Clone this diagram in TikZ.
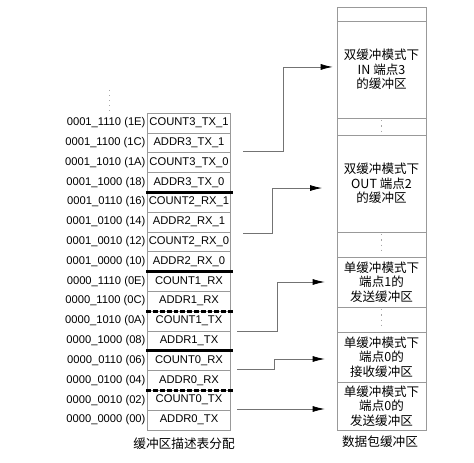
\documentclass[tikz,border=0pt]{standalone}
\usepackage{fontspec}
\setmainfont{Liberation Sans}
\newfontfamily\cjk{Noto Sans CJK SC}
\usetikzlibrary{positioning,arrows.meta}

\begin{document}
\begin{tikzpicture}[x=0.75pt,y=-0.75pt,
    >={Latex[length=9pt,width=4.5pt,color=black]},
    desc/.style={draw=gray!80, minimum width=62.5pt, minimum height=14.85pt, inner sep=0pt, font=\fontsize{8.4}{10}\selectfont},
    addr/.style={inner sep=0pt, font=\fontsize{8.4}{10}\selectfont},
    buf/.style={draw=gray!80, minimum width=66.75pt, inner sep=0pt, align=center, font=\cjk\fontsize{9.4}{11}\selectfont},
    sep/.style={line width=2.2pt},
    gap/.style={line width=0.6pt, draw=gray!70, dash pattern=on 0.8pt off 3pt},
    conn/.style={draw=gray!90!black, line width=0.6pt, ->}]
    \useasboundingbox (0,0) rectangle (474,463);
    % descriptor table
    \foreach \n/\a/\t in {1/0001\_1110 (1E)/COUNT3\_TX\_1, 2/0001\_1100 (1C)/ADDR3\_TX\_1,
        3/0001\_1010 (1A)/COUNT3\_TX\_0, 4/0001\_1000 (18)/ADDR3\_TX\_0,
        5/0001\_0110 (16)/COUNT2\_RX\_1, 6/0001\_0100 (14)/ADDR2\_RX\_1,
        7/0001\_0010 (12)/COUNT2\_RX\_0, 8/0001\_0000 (10)/ADDR2\_RX\_0,
        9/0000\_1110 (0E)/COUNT1\_RX, 10/0000\_1100 (0C)/ADDR1\_RX,
        11/0000\_1010 (0A)/COUNT1\_TX, 12/0000\_1000 (08)/ADDR1\_TX,
        13/0000\_0110 (06)/COUNT0\_RX, 14/0000\_0100 (04)/ADDR0\_RX,
        15/0000\_0010 (02)/COUNT0\_TX, 16/0000\_0000 (00)/ADDR0\_TX}
    {
        \node[desc] (r\n) at (189,{113+(\n-0.5)*19.8}) {\t};
        \node[addr, left=1pt of r\n] (a\n) {\a};
    }
    \draw[gap] (109,90) -- (109,111);
    \foreach \n in {4,8,12}
        \draw[sep] ([xshift=-0.5pt]r\n.south west) -- ([xshift=1.2pt]r\n.south east);
    \foreach \n in {10,14}
        \draw[sep, dash pattern=on 3.6pt off 1.5pt] ([xshift=-0.5pt]r\n.south west) -- ([xshift=1.2pt]r\n.south east);
    \node[font=\cjk\fontsize{9.5}{11}\selectfont] (capl) at (184,444) {缓冲区描述表分配};

    % packet buffer
    \node[buf, minimum height=10.5pt] (b0) at (381.5,14) {};
    \node[buf, minimum height=72.75pt] (b1) at (381.5,69.5) {双缓冲模式下\\IN 端点3\\的缓冲区};
    \node[buf, minimum height=12.75pt] (b2) at (381.5,126.5) {};
    \node[buf, minimum height=72.75pt] (b3) at (381.5,183.5) {双缓冲模式下\\OUT 端点2\\的缓冲区};
    \node[buf, minimum height=18.75pt] (b4) at (381.5,244.5) {};
    \node[buf, minimum height=37.5pt] (b5) at (381.5,282) {单缓冲模式下\\端点1的\\发送缓冲区};
    \node[buf, minimum height=18.75pt] (b6) at (381.5,319.5) {};
    \node[buf, minimum height=37.5pt] (b7) at (381.5,357) {单缓冲模式下\\端点0的\\接收缓冲区};
    \node[buf, minimum height=36pt] (b8) at (381.5,406) {单缓冲模式下\\端点0的\\发送缓冲区};
    \foreach \n in {b2,b4,b6}
        \draw[gap] ([yshift=-2pt]\n.north) -- ([yshift=2pt]\n.south);
    \node[font=\cjk\fontsize{9.5}{11}\selectfont] (capr) at (380,442) {数据包缓冲区};

    % pointers
    \coordinate (o1) at (243,151);
    \coordinate (o2) at (243,233);
    \coordinate (o3) at (237,331);
    \coordinate (o4) at (237,369);
    \coordinate (o5) at (237,409);
    \draw[conn, shorten >=3pt] (o1) -- +(40,0) |- ([yshift=1.9pt]b1.west);
    \draw[conn, shorten >=11pt] (o2) -- +(29,0) |- ([yshift=-3.4pt]b3.west);
    \draw[conn, shorten >=9pt] (o3) -- +(40,0) |- (b5.west);
    \draw[conn, shorten >=9pt] (o4) -- +(37,0) |- ([yshift=-1.5pt]b7.west);
    \draw[conn, shorten >=9pt] (o5) -- ([yshift=-2.25pt]b8.west);
\end{tikzpicture}
\end{document}
